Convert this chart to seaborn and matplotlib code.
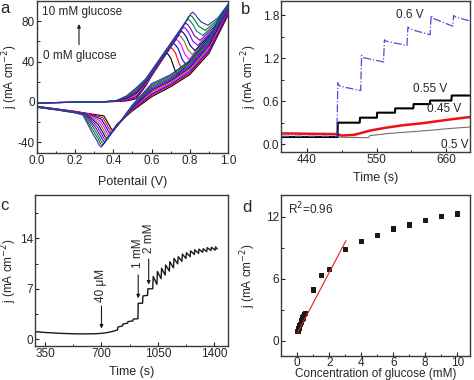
import matplotlib
matplotlib.use("Agg")
import matplotlib.pyplot as plt
from matplotlib.ticker import MultipleLocator
import pandas as pd
import seaborn as sns

# ---- (a) CV curves, 0 ... 10 mM glucose (forward then reverse scan)
cv_conc = [0, 1, 2, 3, 4, 5, 6, 7, 8, 9, 10]
cv_colors = ["#000000", "#ff0000", "#0000ff", "#ff00ff", "#808000", "#000080",
             "#8000ff", "#800080", "#008080", "#008000", "#3030c0"]
fwd_pot = [
    [0, .2, .35, .42, .47, .52, .57, .65, .665, .675, .685, .70, .72, .735, .868, 1.0],
    [0, .2, .35, .42, .47, .52, .57, .675, .69, .70, .71, .725, .745, .762, .881, 1.0],
    [0, .2, .35, .42, .47, .52, .57, .69, .705, .715, .725, .74, .76, .779, .890, 1.0],
    [0, .2, .35, .42, .47, .52, .57, .705, .72, .73, .74, .755, .775, .796, .898, 1.0],
    [0, .2, .35, .42, .47, .52, .57, .72, .735, .745, .755, .77, .79, .813, .907, 1.0],
    [0, .2, .35, .42, .47, .52, .57, .732, .747, .757, .767, .782, .802, .827, .914, 1.0],
    [0, .2, .35, .42, .47, .52, .57, .745, .76, .77, .78, .795, .815, .842, .921, 1.0],
    [0, .2, .35, .42, .47, .52, .57, .755, .77, .78, .79, .805, .825, .854, .927, 1.0],
    [0, .2, .35, .42, .47, .52, .57, .767, .782, .792, .802, .817, .837, .868, .934, 1.0],
    [0, .2, .35, .42, .47, .52, .57, .778, .793, .803, .813, .828, .848, .881, .941, 1.0],
    [0, .2, .35, .42, .47, .52, .57, .79, .805, .815, .825, .84, .86, .895, .948, 1.0],
]
fwd_j = [
    [-1, -0.5, 0, 0.3, 1.0, 3.0, 16.0, 42.5, 47.5, 49, 47.5, 43.5, 32.5, 27, 53.5, 86],
    [-1, -0.5, 0, 0.4, 1.5, 4.1, 16.7, 47.5, 52.5, 54, 52.5, 48.5, 37.5, 32, 56.5, 87],
    [-1, -0.5, 0, 0.5, 2.0, 5.2, 17.4, 51.5, 56.5, 58, 56.5, 52.5, 42.3, 37, 59.5, 88],
    [-1, -0.5, 0, 0.7, 2.5, 6.3, 18.1, 55.5, 60.5, 62, 60.5, 56.5, 47, 42, 63, 90],
    [-1, -0.5, 0, 0.8, 3.0, 7.4, 18.8, 59.5, 64.5, 66, 64.5, 60.5, 51.8, 47, 66, 91],
    [-1, -0.5, 0, 0.9, 3.5, 8.5, 19.5, 63.5, 68.5, 70, 68.5, 64.5, 55.8, 51, 68.5, 92],
    [-1, -0.5, 0, 1.0, 4.0, 9.6, 20.2, 67.5, 72.5, 74, 72.5, 68.5, 60.5, 56, 71.5, 93],
    [-1, -0.5, 0, 1.1, 4.5, 10.7, 20.9, 71.5, 76.5, 78, 76.5, 72.5, 65.3, 61, 74.5, 94],
    [-1, -0.5, 0, 1.3, 5.0, 11.8, 21.6, 75.5, 80.5, 82, 80.5, 76.5, 70, 66, 77.5, 95],
    [-1, -0.5, 0, 1.4, 5.5, 12.9, 22.3, 79.5, 84.5, 86, 84.5, 80.5, 74.8, 71, 80.5, 96],
    [-1, -0.5, 0, 1.5, 6.0, 14.0, 23, 82.5, 87.5, 89, 87.5, 83.5, 79.3, 76, 83.5, 97],
]
rev_pot = [
    [.9, .8, .7, .6, .5, .45, .42, .405, .395, .385, .375, .35, .28, .2, .1, 0],
    [.9, .8, .7, .6, .5, .45, .414, .399, .389, .379, .369, .344, .276, .2, .1, 0],
    [.9, .8, .7, .6, .5, .45, .408, .393, .383, .373, .363, .338, .272, .2, .1, 0],
    [.9, .8, .7, .6, .5, .45, .402, .387, .377, .367, .357, .332, .268, .2, .1, 0],
    [.9, .8, .7, .6, .5, .45, .396, .381, .371, .361, .351, .326, .264, .2, .1, 0],
    [.9, .8, .7, .6, .5, .45, .39, .375, .365, .355, .345, .32, .26, .2, .1, 0],
    [.9, .8, .7, .6, .5, .45, .384, .369, .359, .349, .339, .314, .256, .2, .1, 0],
    [.9, .8, .7, .6, .5, .45, .378, .363, .353, .343, .333, .308, .252, .2, .1, 0],
    [.9, .8, .7, .6, .5, .45, .372, .357, .347, .337, .327, .302, .248, .2, .1, 0],
    [.9, .8, .7, .6, .5, .45, .366, .351, .341, .331, .321, .296, .244, .2, .1, 0],
    [.9, .8, .7, .6, .5, .45, .36, .345, .335, .325, .315, .29, .24, .2, .1, 0],
]
rev_j = [
    [48, 27, 15, 5, -9, -17.1, -22, -26.2, -28, -25.8, -22, -14, -12, -9.5, -7, -4.5],
    [49.6, 28.4, 16.2, 6.3, -8.4, -17.3, -23.7, -27.9, -29.7, -27.5, -23.7, -15.7, -12.1, -9.65, -7.1, -4.6],
    [51.2, 29.8, 17.4, 7.6, -7.8, -17.4, -25.4, -29.6, -31.4, -29.2, -25.4, -17.4, -12.2, -9.8, -7.2, -4.7],
    [52.8, 31.2, 18.6, 8.9, -7.2, -17.4, -27.1, -31.3, -33.1, -30.9, -27.1, -19.1, -12.3, -9.95, -7.3, -4.8],
    [54.4, 32.6, 19.8, 10.2, -6.6, -17.3, -28.8, -33.0, -34.8, -32.6, -28.8, -20.8, -12.4, -10.1, -7.4, -4.9],
    [56, 34, 21, 11.5, -6, -17.1, -30.5, -34.7, -36.5, -34.3, -30.5, -22.5, -12.5, -10.25, -7.5, -5],
    [57.6, 35.4, 22.2, 12.8, -5.4, -17.0, -32.2, -36.4, -38.2, -36.0, -32.2, -24.2, -12.6, -10.4, -7.6, -5.1],
    [59.2, 36.8, 23.4, 14.1, -4.8, -16.7, -33.9, -38.1, -39.9, -37.7, -33.9, -25.9, -12.7, -10.55, -7.7, -5.2],
    [60.8, 38.2, 24.6, 15.4, -4.2, -16.5, -35.6, -39.8, -41.6, -39.4, -35.6, -27.6, -12.8, -10.7, -7.8, -5.3],
    [62.4, 39.6, 25.8, 16.7, -3.6, -16.2, -37.3, -41.5, -43.3, -41.1, -37.3, -29.3, -12.9, -10.85, -7.9, -5.4],
    [64, 41, 27, 18, -3, -15.9, -39, -43.2, -45, -42.8, -39, -31, -13, -11, -8, -5.5],
]

# ---- (b) amperometric response at different potentials
t_06 = [400, 487.5, 489, 492, 525, 526.5, 529, 561, 562.5, 565, 598, 599.5, 602,
        634.5, 636, 639, 670, 671.5, 674, 698]
j_06 = [0.11, 0.11, 0.86, 0.81, 0.75, 1.24, 1.21, 1.15, 1.46, 1.44, 1.38, 1.64, 1.61,
        1.53, 1.80, 1.76, 1.65, 1.80, 1.78, 1.72]
t_055 = [400, 488.5, 489, 523.5, 524, 550.5, 551, 579, 579.5, 608, 608.5, 634,
         634.5, 668, 668.5, 698]
j_055 = [0.10, 0.10, 0.30, 0.30, 0.37, 0.37, 0.44, 0.44, 0.50, 0.50, 0.56, 0.56,
         0.61, 0.61, 0.68, 0.68]
t_045 = [400, 488, 495, 515, 540, 565, 592, 620, 645, 670, 698]
j_045 = [0.15, 0.14, 0.12, 0.13, 0.19, 0.23, 0.265, 0.29, 0.32, 0.35, 0.38]
t_05 = [400, 488, 500, 537, 540, 570, 600, 630, 660, 698]
j_05 = [0.10, 0.10, 0.095, 0.09, 0.12, 0.15, 0.17, 0.19, 0.215, 0.24]

# ---- (c) successive additions of glucose
c_t = [295, 350, 450, 550, 650, 700, 740, 770, 800, 802, 830, 832, 862, 864, 895,
       897, 926, 928, 955, 957, 986, 988, 1016]
c_j = [1.05, 0.95, 0.82, 0.75, 0.76, 0.82, 0.95, 1.1, 1.3, 1.7, 1.85, 2.1, 2.25,
       2.45, 2.55, 2.8, 2.85, 5.0, 5.0, 6.0, 6.1, 7.0, 7.0]
step_t = [1018, 1044, 1070, 1095, 1121, 1147, 1173, 1199, 1224, 1250, 1276, 1302,
          1328, 1353, 1379, 1405]
tooth_peak = [8.7, 9.4, 9.85, 10.3, 10.75, 11.2, 11.45, 11.8, 12.0, 12.25, 12.4,
              12.5, 12.55, 12.7, 12.75, 12.8]
tooth_trough = [7.6, 8.4, 8.9, 9.45, 9.9, 10.45, 10.8, 11.2, 11.45, 11.75, 11.9,
                12.05, 12.15, 12.3, 12.35, 12.5]
c_end_t = 1418

# ---- (d) calibration
conc = [0.04, 0.06, 0.08, 0.1, 0.12, 0.16, 0.2, 0.24, 0.28, 0.32, 0.36, 0.4, 0.44,
        0.5, 1, 1.5, 2, 3, 4, 5, 6, 7, 8, 9, 10]
j_conc = [0.9, 1.0, 1.1, 1.2, 1.3, 1.45, 1.6, 1.75, 1.9, 2.05, 2.2, 2.35, 2.5,
          2.65, 4.9, 6.3, 6.85, 8.8, 9.6, 10.2, 10.8, 11.2, 11.6, 12.0, 12.25]
fit_conc = [0.0, 3.05]
fit_j = [0.72, 9.7]

sns.set_theme(style="ticks")
plt.rcParams["font.family"] = ["Liberation Sans", "DejaVu Sans"]
plt.rcParams["xtick.direction"] = "in"
plt.rcParams["ytick.direction"] = "in"
plt.rcParams["axes.unicode_minus"] = False

fig = plt.figure(figsize=(4.74, 3.8), dpi=100)
ax_a = fig.add_axes([0.078, 0.597, 0.403, 0.400])
ax_b = fig.add_axes([0.5935, 0.600, 0.399, 0.397])
ax_c = fig.add_axes([0.074, 0.090, 0.407, 0.397])
ax_d = fig.add_axes([0.5935, 0.064, 0.398, 0.423])

# a
for k in range(len(cv_conc)):
    sns.lineplot(x=fwd_pot[k] + rev_pot[k], y=fwd_j[k] + rev_j[k], sort=False,
                 estimator=None, color=cv_colors[k], lw=0.8, ax=ax_a)
ax_a.set_xlim(0, 1.0)
ax_a.set_ylim(-51, 100)
ax_a.xaxis.set_major_locator(MultipleLocator(0.2))
ax_a.xaxis.set_minor_locator(MultipleLocator(0.1))
ax_a.yaxis.set_major_locator(MultipleLocator(40))
ax_a.yaxis.set_minor_locator(MultipleLocator(20))
ax_a.set_xlabel("Potentail (V)")
ax_a.set_ylabel("j (mA cm$^{-2}$)")
ax_a.text(0.025, 89, "10 mM glucose", fontsize=8.5, va="center")
ax_a.text(0.033, 45.5, "0 mM glucose", fontsize=8.5, va="center")
ax_a.annotate("", xy=(0.22, 80), xytext=(0.22, 54),
              arrowprops=dict(arrowstyle="-|>", lw=0.8, color="k", mutation_scale=5))

# b
df_b = pd.DataFrame({"t": t_05, "j": j_05})
sns.lineplot(data=df_b, x="t", y="j", color="#707070", lw=0.8, ax=ax_b)
sns.lineplot(x=t_045, y=j_045, color="#ee1111", lw=1.8, ax=ax_b)
sns.lineplot(x=t_055, y=j_055, color="#000000", lw=1.5, ax=ax_b)
sns.lineplot(x=t_06, y=j_06, color="#4a4ae0", lw=0.9, ax=ax_b, linestyle="-.")
ax_b.set_xlim(400, 698)
ax_b.set_ylim(-0.11, 2.0)
ax_b.yaxis.set_major_locator(MultipleLocator(0.6))
ax_b.yaxis.set_minor_locator(MultipleLocator(0.3))
ax_b.set_xticks([440, 550, 660])
ax_b.set_xticks([495, 605], minor=True)
ax_b.set_xlabel("Time (s)")
ax_b.set_ylabel("j (mA cm$^{-2}$)")
for lbl, tx, ty in [("0.6 V", 603, 1.80), ("0.55 V", 634, 0.77),
                    ("0.45 V", 656, 0.49), ("0.5 V", 674, -0.01)]:
    ax_b.text(tx, ty, lbl, fontsize=8.5, ha="center", va="center")

# c
ct = list(c_t)
cj = list(c_j)
prev = c_j[-1]
for i in range(len(step_t)):
    ct += [step_t[i], step_t[i] + 3]
    cj += [prev, tooth_peak[i]]
    prev = tooth_trough[i]
ct.append(c_end_t)
cj.append(prev)
sns.lineplot(x=ct, y=cj, sort=False, estimator=None, color="k", lw=1.0, ax=ax_c)
ax_c.set_xlim(288, 1485)
ax_c.set_ylim(-0.9, 20)
ax_c.set_xticks([350, 700, 1050, 1400])
ax_c.set_xticks([525, 875, 1225], minor=True)
ax_c.yaxis.set_major_locator(MultipleLocator(7))
ax_c.yaxis.set_minor_locator(MultipleLocator(3.5))
ax_c.set_xlabel("Time (s)")
ax_c.set_ylabel("j (mA cm$^{-2}$)")
arrows_c = [("40 μM", 700, 5.0, 1.1, 7.4), ("1 mM", 928, 9.3, 5.3, 11.9),
            ("2 mM", 993, 11.5, 7.2, 14.0)]
for lbl, tx, y0, y1, ty in arrows_c:
    ax_c.annotate("", xy=(tx, y1), xytext=(tx, y0),
                  arrowprops=dict(arrowstyle="-|>", lw=0.8, color="k", mutation_scale=5))
    ax_c.text(tx, ty, lbl, fontsize=8.5, rotation=90, ha="center", va="center")

# d
sns.scatterplot(x=conc, y=j_conc, marker="s", s=14, color="k", edgecolor="none", ax=ax_d)
sns.lineplot(x=fit_conc, y=fit_j, color="#e8191f", lw=0.8, ax=ax_d)
ax_d.set_xlim(-1, 10.8)
ax_d.set_ylim(-1.45, 14.1)
ax_d.xaxis.set_major_locator(MultipleLocator(2))
ax_d.xaxis.set_minor_locator(MultipleLocator(1))
ax_d.yaxis.set_major_locator(MultipleLocator(6))
ax_d.yaxis.set_minor_locator(MultipleLocator(3))
ax_d.set_xlabel("Concentration of glucose (mM)")
ax_d.set_ylabel("j (mA cm$^{-2}$)")
ax_d.text(-0.6, 12.7, "R$^2$=0.96", fontsize=8.5, va="center")

# label positions (axes fractions)
label_pos = {ax_a: (-0.189, -0.141), ax_b: (-0.172, -0.172),
             ax_c: (-0.172, -0.134), ax_d: (-0.113, -0.173)}
for ax, (xl_y, yl_x) in label_pos.items():
    ax.tick_params(which="major", length=3, width=0.8, labelsize=8.5, pad=1.5)
    ax.tick_params(which="minor", length=1.8, width=0.7)
    ax.xaxis.label.set_size(9)
    ax.yaxis.label.set_size(8.5)
    ax.xaxis.set_label_coords(0.5, xl_y)
    ax.xaxis.label.set_va("center")
    ax.yaxis.set_label_coords(yl_x, 0.5)
    ax.yaxis.label.set_va("center")
    for sp in ax.spines.values():
        sp.set_color("#3a3a3a")
        sp.set_linewidth(1.0)
ax_d.tick_params(axis="x", which="major", pad=1)
ax_d.xaxis.label.set_size(8.5)

for lbl, fx, fy in [("a", 0.010, 0.978), ("b", 0.519, 0.976), ("c", 0.010, 0.458),
                    ("d", 0.521, 0.453)]:
    fig.text(fx, fy, lbl, fontsize=12, ha="center", va="center")

fig.savefig("out.png", dpi=100)
